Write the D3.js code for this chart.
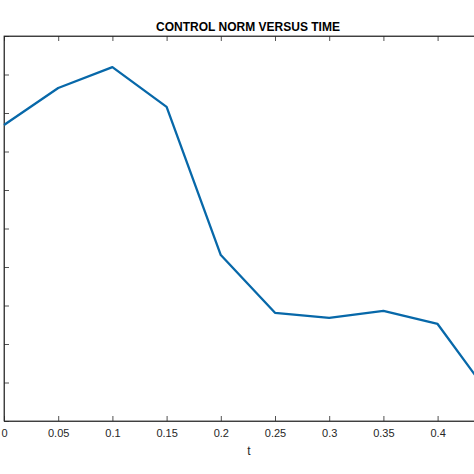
<!DOCTYPE html>
<html><head><meta charset="utf-8">
<script src="https://cdn.jsdelivr.net/npm/d3@7"></script>
<style>body{margin:0;background:#fff}svg{display:block}</style>
</head><body>
<script>
const tValues = [0, 0.05, 0.1, 0.15, 0.2, 0.25, 0.3, 0.35, 0.4, 0.45];
const normValues = [7.69, 8.65, 9.19, 8.16, 4.31, 2.81, 2.68, 2.86, 2.52, 0.6];
const xTicks = [0, 0.05, 0.1, 0.15, 0.2, 0.25, 0.3, 0.35, 0.4, 0.45, 0.5];
const xLabelTicks = [0, 0.05, 0.1, 0.15, 0.2, 0.25, 0.3, 0.35, 0.4];
const yTicks = [0,1,2,3,4,5,6,7,8,9,10];

const W = 474, H = 474;
const svg = d3.select("body").append("svg").attr("width", W).attr("height", H);
const x = d3.scaleLinear().domain([0, 0.5]).range([4, 546]);
const y = d3.scaleLinear().domain([0, 10]).range([421, 36]);
const ax = "#262626";
const font = "Helvetica, Arial, 'Liberation Sans', sans-serif";

svg.append("rect").attr("x", x(0)).attr("y", y(10)).attr("width", x(0.5)-x(0)).attr("height", y(0)-y(10))
  .attr("fill", "none").attr("stroke", ax).attr("stroke-width", 0.8);

const fmt = d => xLabelTicks.includes(d) ? (d === 0 ? "0" : String(+d.toFixed(2))) : "";
const gb = svg.append("g").attr("transform", `translate(0,${y(0)})`)
  .call(d3.axisBottom(x).tickValues(xTicks).tickSizeInner(-5).tickSizeOuter(0).tickPadding(8).tickFormat(fmt));
const gt = svg.append("g").attr("transform", `translate(0,${y(10)})`)
  .call(d3.axisTop(x).tickValues(xTicks).tickSizeInner(-5).tickSizeOuter(0).tickFormat(""));
const gl = svg.append("g").attr("transform", `translate(${x(0)},0)`)
  .call(d3.axisLeft(y).tickValues(yTicks).tickSizeInner(-5).tickSizeOuter(0).tickFormat(""));
[gb, gt, gl].forEach(g => {
  g.select(".domain").attr("stroke", ax).attr("stroke-width", 0.8);
  g.selectAll(".tick line").attr("stroke", ax).attr("stroke-width", 0.8);
  g.selectAll("text").attr("fill", ax).attr("font-family", font).attr("font-size", 11);
});

svg.append("path").datum(tValues.map((t, i) => [t, normValues[i]]))
  .attr("fill", "none").attr("stroke", "#0768a9").attr("stroke-width", 2.3)
  .attr("stroke-linejoin", "round")
  .attr("d", d3.line().x(d => x(d[0])).y(d => y(d[1])));

svg.append("text").attr("x", 248).attr("y", 31).attr("text-anchor", "middle")
  .attr("font-family", font).attr("font-weight", "bold").attr("font-size", 12).attr("fill", "#000")
  .text("CONTROL NORM VERSUS TIME");
svg.append("text").attr("x", 249).attr("y", 455).attr("text-anchor", "middle")
  .attr("font-family", font).attr("font-size", 12).attr("fill", ax).text("t");
</script>
</body></html>
